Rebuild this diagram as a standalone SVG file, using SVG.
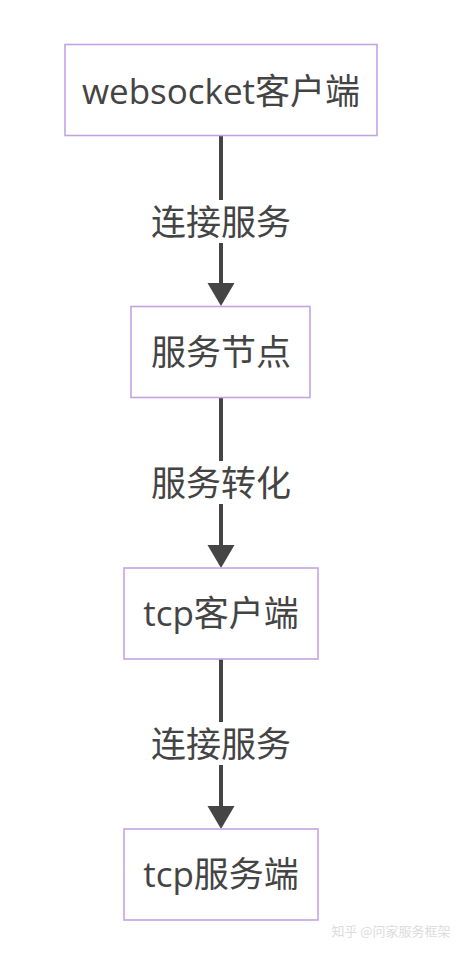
<svg xmlns="http://www.w3.org/2000/svg" width="461" height="954" viewBox="0 0 461 954">
<style>
.node rect{fill:#ffffff;stroke:#c5a3e3;stroke-width:1.6}
.node text{font-family:"Open Sans","Noto Sans CJK SC",sans-serif;font-size:35px;fill:#444444;text-anchor:middle;dominant-baseline:central}
.edge{stroke:#454545;stroke-width:4;fill:none}
.lbl{font-family:"Open Sans","Noto Sans CJK SC",sans-serif;font-size:35px;fill:#444444;text-anchor:middle;dominant-baseline:central}
.lblbg{fill:#ffffff}
</style>
<rect width="461" height="954" fill="#ffffff"/>
<g id="connectors">
<line class="edge" x1="221" y1="135" x2="221" y2="284"/>
<path d="M207.5,283 L234.5,283 L221,306 Z" fill="#454545"/>
<line class="edge" x1="221" y1="398" x2="221" y2="546"/>
<path d="M207.5,545 L234.5,545 L221,568 Z" fill="#454545"/>
<line class="edge" x1="221" y1="659" x2="221" y2="807"/>
<path d="M207.5,806 L234.5,806 L221,829 Z" fill="#454545"/>
<rect class="lblbg" x="146" y="200" width="150" height="43"/>
<text class="lbl" x="221" y="221">连接服务</text>
<rect class="lblbg" x="146" y="461" width="150" height="43"/>
<text class="lbl" x="221" y="482">服务转化</text>
<rect class="lblbg" x="146" y="722" width="150" height="43"/>
<text class="lbl" x="221" y="743">连接服务</text>
</g>
<g id="node-websocket" class="node">
<rect x="65" y="44.5" width="312" height="91"/>
<text x="221" y="90">websocket客户端</text>
</g>
<g id="node-service" class="node">
<rect x="131" y="306.5" width="179" height="91"/>
<text x="221" y="351">服务节点</text>
</g>
<g id="node-tcpclient" class="node">
<rect x="124" y="568" width="194" height="91"/>
<text x="221" y="612">tcp客户端</text>
</g>
<g id="node-tcpserver" class="node">
<rect x="124" y="829" width="194" height="91"/>
<text x="221" y="873">tcp服务端</text>
</g>
<text x="391" y="936" style="font-family:'Noto Sans CJK SC',sans-serif;font-size:13px;fill:#dcdcdc;text-anchor:middle">知乎 @问家服务框架</text>
</svg>
